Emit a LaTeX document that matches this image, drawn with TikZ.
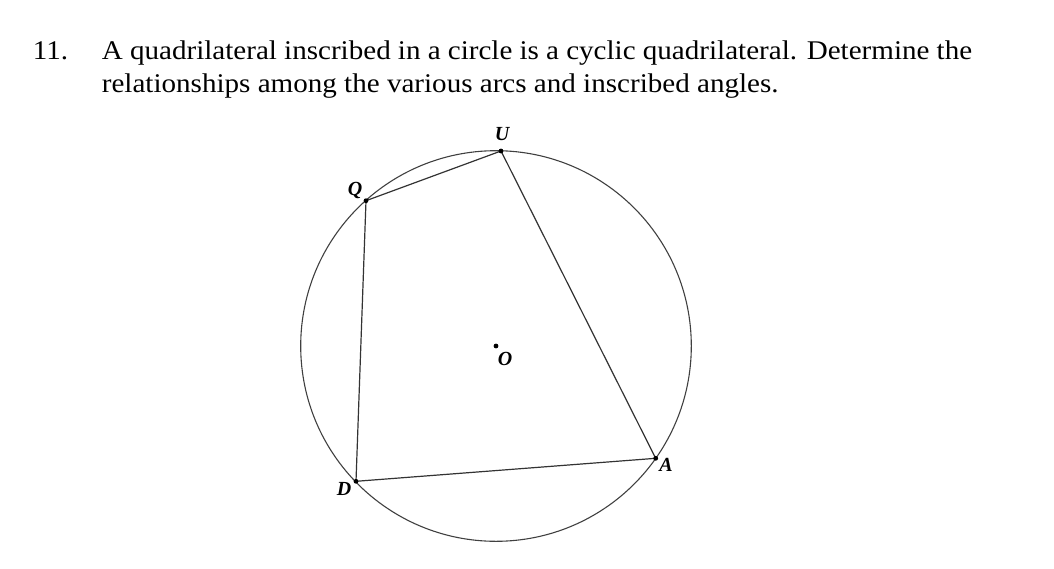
\documentclass[tikz,border=0pt]{standalone}
\usepackage{fontspec}
\setmainfont{Liberation Serif}
\begin{document}
\begin{tikzpicture}[x=1pt,y=-1pt,
  body/.style={anchor=base west, inner sep=0pt, font=\fontsize{27}{33}\selectfont},
  lbl/.style={anchor=base, inner sep=0pt, font=\fontsize{20}{21}\selectfont\bfseries\itshape},
  edge/.style={draw=black!80, line width=1.2pt},
  rim/.style={draw=black!75, line width=1.1pt},
  pt/.style={fill=black}]
\useasboundingbox (0,0) rectangle (1054,568);
\node[body] (num) at (32.7,59.3) {\scalebox{1.077}[1]{11.}};
\node[body] (l1) at (101.7,59.3) {\scalebox{1.077}[1]{\makebox[808pt][s]{A quadrilateral inscribed in a circle is a cyclic quadrilateral. Determine the}}};
\node[body] (l2) at (101.7,92) {\scalebox{1.077}[1]{relationships among the various arcs and inscribed angles.}};
\coordinate (O) at (496,346);
\coordinate (U) at (501,151);
\coordinate (Q) at (366,200.7);
\coordinate (D) at (356,481.3);
\coordinate (A) at (655.7,458.3);
\draw[rim] (O) circle (195.3pt);
\draw[edge] (U) -- (Q) -- (D) -- (A) -- cycle;
\foreach \p in {U,Q,D,A,O} \fill[pt] (\p) circle (2.4pt);
\node[lbl] (lU) at (502,140) {U};
\node[lbl] (lQ) at (355,195) {Q};
\node[lbl] (lO) at (505,365) {O};
\node[lbl] (lD) at (344,495) {D};
\node[lbl] (lA) at (666,471.7) {A};
\end{tikzpicture}
\end{document}
